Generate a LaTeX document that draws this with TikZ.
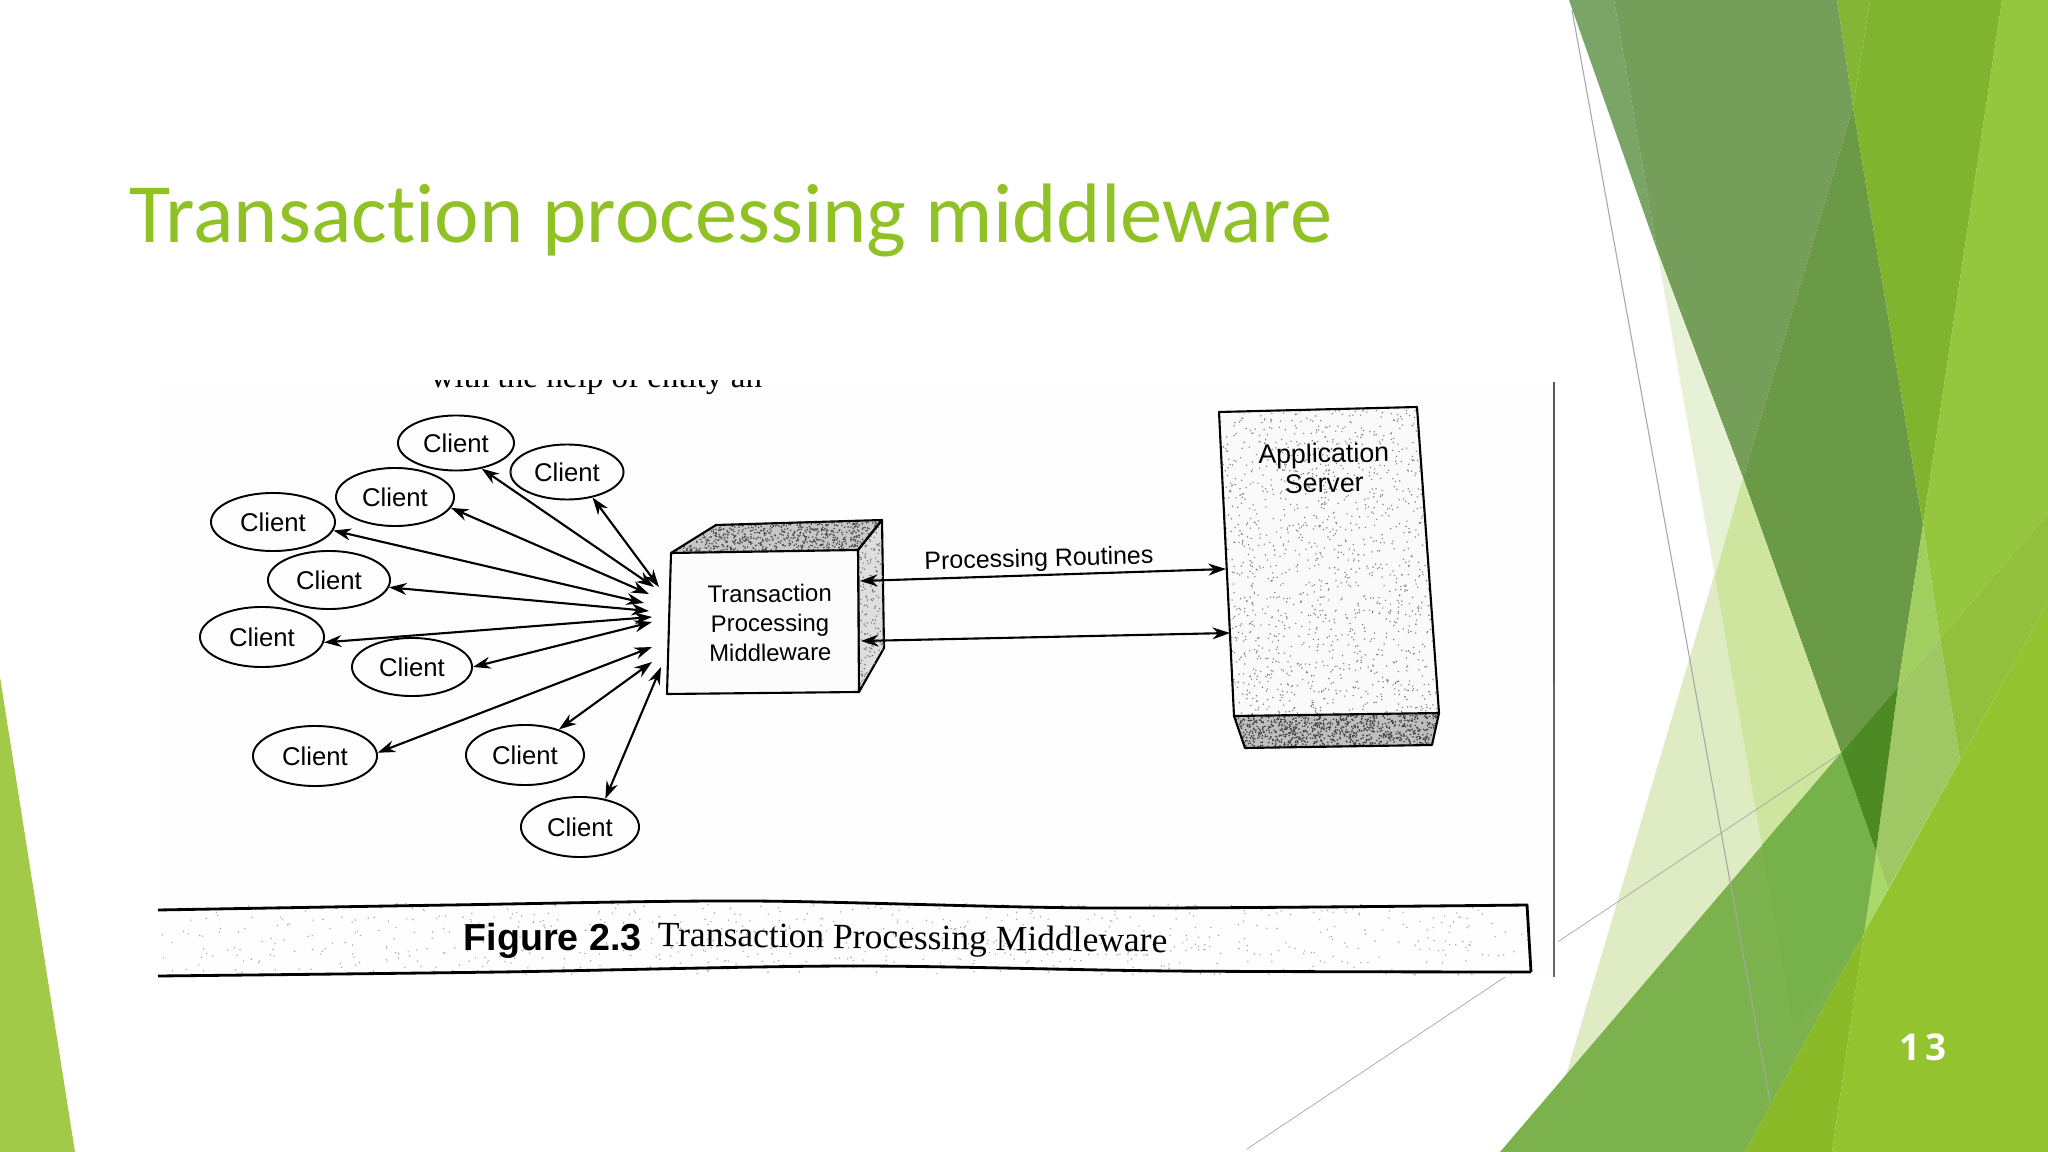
\documentclass[tikz,border=0pt]{standalone}
\usepackage{fontspec}
\setmainfont{Liberation Sans}
\newfontfamily\titlefont[Ligatures=NoCommon]{Carlito}
\newfontfamily\bookfont{Liberation Serif}
\newfontfamily\numfont[LetterSpace=14]{Open Sans}
\usepackage{tikz}
\usetikzlibrary{arrows.meta,shapes,positioning}
\definecolor{titleGreen}{HTML}{90C226}
\definecolor{sideGreen}{HTML}{A2C948}
\definecolor{facetA}{HTML}{7AA566}
\definecolor{facetB}{HTML}{749E59}
\definecolor{facetC}{HTML}{6A9A45}
\definecolor{facetD}{HTML}{80B42F}
\definecolor{facetE}{HTML}{84B535}
\definecolor{facetF}{HTML}{96C53E}
\definecolor{facetG}{HTML}{92C03C}
\definecolor{facetH}{HTML}{A0CF60}
\definecolor{facetI}{HTML}{9FC864}
\definecolor{facetJ}{HTML}{A8D86A}
\definecolor{facetK}{HTML}{4E8A24}
\definecolor{facetL}{HTML}{7BB24E}
\definecolor{facetM}{HTML}{76B14A}
\definecolor{facetN}{HTML}{DFEBC2}
\definecolor{facetO}{HTML}{E7F1D6}
\definecolor{facetP}{HTML}{CEE59F}
\definecolor{facetQ}{HTML}{8ABA28}
\definecolor{facetR}{HTML}{93C42F}

\begin{document}
\begin{tikzpicture}[
    x=0.01cm,
    y=-0.01cm,
    client/.style 2 args={
        ellipse,
        draw,
        line width=0.55pt,
        inner sep=0pt,
        minimum width=#1,
        minimum height=#2,
        font=\fontsize{7.3}{8.5}\selectfont
        },
    boxtext/.style={
        inner sep=0pt,
        align=center,
        font=\fontsize{#1}{8.4}\selectfont
        },
    face/.style={
        draw,
        line width=0.6pt,
        line join=round,
        fill=#1
        },
    link/.style={
        {Stealth[length=5pt,width=3.4pt]}-{Stealth[length=5pt,width=3.4pt]},
        line width=0.6pt
        },
    hairline/.style={
        line width=0.3pt,
        draw=gray!70
        }
  ]
  \useasboundingbox (0,0) rectangle (2048,1152);
  \pgfmathsetseed{23}
  % Slide background
  \fill[white] (0,0) rectangle (2048,1152);
  \fill[sideGreen] (0,677) -- (75,1152) -- (0,1152) -- cycle;
  \fill[facetA] (1569,0) -- (1614,0) -- (1657,250) -- cycle;
  \fill[facetB] (1614,0) -- (1837,0) -- (1853,107) -- (1743,478) -- (1657,250) -- cycle;
  \fill[facetC] (1853,107) -- (1923,525) -- (1898,687) -- (1841,753) -- (1743,478) -- cycle;
  \fill[facetE] (1837,0) -- (1870,0) -- (1853,107) -- cycle;
  \fill[facetD] (1870,0) -- (2002,0) -- (1923,525) -- (1853,107) -- cycle;
  \fill[facetF] (2002,0) -- (2048,0) -- (2048,514) -- (1940,639) -- (1923,525) -- cycle;
  \fill[facetG] (2048,514) -- (2048,602) -- (1960,760) -- (1940,639) -- cycle;
  \fill[facetH] (1923,525) -- (1940,639) -- (1898,687) -- cycle;
  \fill[facetI] (1898,687) -- (1940,639) -- (1960,760) -- (1888,889) -- (1876,852) -- cycle;
  \fill[facetJ] (1876,852) -- (1888,889) -- (1864,933) -- cycle;
  \fill[facetK] (1841,753) -- (1898,687) -- (1876,852) -- cycle;
  \fill[facetN] (1743,478) -- (1841,753) -- (1566,1075) -- cycle;
  \fill[facetO] (1657,250) -- (1743,478) -- (1715,577) -- cycle;
  \fill[facetP] (1715,577) -- (1743,478) -- (1841,753) -- (1762,845) -- cycle;
  \fill[facetL] (1841,753) -- (1876,852) -- (1864,933) -- (1745,1152) -- (1500,1152) -- cycle;
  \fill[facetM] (1762,845) -- (1841,753) -- (1876,852) -- (1864,933) -- (1794,1029) -- cycle;
  \fill[facetQ] (1864,933) -- (1832,1152) -- (1745,1152) -- cycle;
  \fill[facetR] (1864,933) -- (2048,602) -- (2048,1152) -- (1832,1152) -- cycle;
  % Thin lines
  \coordinate (lineA) at (1572,10);
  \coordinate (lineB) at (1770,1102);
  \coordinate (lineC) at (1247,1149);
  \coordinate (lineD) at (1841,753);
  \draw[hairline] (lineA) -- (lineB);
  \draw[hairline,line width=0.2pt] (lineC) -- (lineD);
  % Title and page number
  \node[anchor=base west,inner sep=0pt,text=titleGreen,font=\titlefont\fontsize{24}{30}\selectfont]
    (title) at (129,243) {Transaction processing middleware};
  \node[text=white,inner sep=0pt,font=\numfont\bfseries\fontsize{10.5}{12}\selectfont]
    (page) at (1923,1047) {13};
  % Scanned page
  \fill[white!99.5!black] (158,381) rectangle (1558,977);
  \begin{scope}
    \clip (158,381) rectangle (1558,400);
    \node[anchor=base west,inner sep=0pt,font=\bookfont\fontsize{9.4}{10}\selectfont]
      (scrap) at (430,388) {with the help of entity an};
  \end{scope}
  \draw[line width=0.8pt,draw=black!65] (1554,382) -- (1554,683);
  \draw[line width=0.5pt,draw=black!60] (1554,683) -- (1554,977);
  % Clients
  \node[client={1.16cm}{.55cm}] (client1) at (456,443) {Client};
  \node[client={1.13cm}{.55cm}] (client2) at (567,472) {Client};
  \node[client={1.18cm}{.58cm}] (client3) at (395,497) {Client};
  \node[client={1.24cm}{.58cm}] (client4) at (273,522) {Client};
  \node[client={1.22cm}{.58cm}] (client5) at (329,580) {Client};
  \node[client={1.24cm}{.60cm}] (client6) at (262,637) {Client};
  \node[client={1.20cm}{.58cm}] (client7) at (412,667) {Client};
  \node[client={1.24cm}{.60cm}] (client8) at (315,756) {Client};
  \node[client={1.18cm}{.60cm}] (client9) at (525,755) {Client};
  \node[client={1.18cm}{.60cm}] (client10) at (580,827) {Client};
  % Middleware box
  \coordinate (mwTL) at (671,553);
  \coordinate (mwTR) at (858,550);
  \coordinate (mwBR) at (859,692);
  \coordinate (mwBL) at (667,694);
  \coordinate (mwBack) at (716,525);
  \coordinate (mwSide) at (882,520);
  \coordinate (mwLow) at (884,648);
  \fill[black!22] (mwTL) -- (mwBack) -- (mwSide) -- (mwTR) -- cycle;
  \begin{scope}
    \clip (mwTL) -- (mwBack) -- (mwSide) -- (mwTR) -- cycle;
    \foreach \n in {1,...,900}
      \fill[black!70] ({671+rnd*211},{520+rnd*34}) circle (0.9);
  \end{scope}
  \draw[face=black!13] (mwTR) -- (mwSide) -- (mwLow) -- (mwBR) -- cycle;
  \begin{scope}
    \clip (mwTR) -- (mwSide) -- (mwLow) -- (mwBR) -- cycle;
    \foreach \n in {1,...,250}
      \fill[black!55] ({858+rnd*26},{520+rnd*172}) circle (0.8);
  \end{scope}
  \draw[face=black!1] (mwTL) -- (mwTR) -- (mwBR) -- (mwBL) -- cycle;
  \draw[line width=0.6pt,line join=round] (mwTL) -- (mwBack) -- (mwSide) -- (mwTR);
  \node[boxtext=6.8,rotate=0.6] (middleware) at (770,623) {Transaction\\Processing\\Middleware};
  % Application server
  \coordinate (srvTL) at (1219,412);
  \coordinate (srvTR) at (1417,407);
  \coordinate (srvBR) at (1439,713);
  \coordinate (srvBL) at (1234,716);
  \coordinate (srvLowR) at (1432,745);
  \coordinate (srvLowL) at (1245,748);
  \fill[black!2] (srvTL) -- (srvTR) -- (srvBR) -- (srvBL) -- cycle;
  \begin{scope}
    \clip (srvTL) -- (srvTR) -- (srvBR) -- (srvBL) -- cycle;
    \foreach \n in {1,...,1500}
      \fill[black!50] ({1219+rnd*220},{407+rnd*309}) circle (0.8);
  \end{scope}
  \fill[black!25] (srvBL) -- (srvBR) -- (srvLowR) -- (srvLowL) -- cycle;
  \begin{scope}
    \clip (srvBL) -- (srvBR) -- (srvLowR) -- (srvLowL) -- cycle;
    \foreach \n in {1,...,1000}
      \fill[black!75] ({1234+rnd*205},{713+rnd*35}) circle (0.9);
  \end{scope}
  \draw[line width=0.6pt,line join=round] (srvTL) -- (srvTR) -- (srvBR) -- (srvBL) -- cycle;
  \draw[line width=0.6pt,line join=round] (srvBL) -- (srvLowL) -- (srvLowR) -- (srvBR);
  \node[boxtext=7.6,rotate=1] (server) at (1324,468) {Application\\Server};
  % Client arrows
  \coordinate (hub1) at (654,587);
  \coordinate (hub2) at (659,587);
  \coordinate (hub3) at (649,594);
  \coordinate (hub4) at (644,603);
  \coordinate (hub5) at (649,611);
  \coordinate (hub6) at (652,617);
  \coordinate (hub7) at (652,622);
  \coordinate (hub8) at (652,647);
  \coordinate (hub9) at (652,662);
  \coordinate (hub10) at (661,667);
  \draw[link] (client1.-45) -- (hub1);
  \draw[link] (client2.-45) -- (hub2);
  \draw[link] (client3.-11) -- (hub3);
  \draw[link] (client4.-8) -- (hub4);
  \draw[link] (client5.-7) -- (hub5);
  \draw[link] (client6.-5) -- (hub6);
  \draw[link] (client7.east) -- (hub7);
  \draw[link] (client8.3) -- (hub8);
  \draw[link] (client9.37) -- (hub9);
  \draw[link] (client10.48) -- (hub10);
  % Routines arrows
  \coordinate (mwUp) at (860,581);
  \coordinate (mwDown) at (861,641);
  \coordinate (srvUp) at (1226,569);
  \coordinate (srvDown) at (1230,633);
  \draw[link] (mwUp) -- (srvUp);
  \draw[link] (mwDown) -- (srvDown);
  \node[boxtext=7.1,rotate=1.5] (routines) at (1039,560) {Processing Routines};
  % Caption band
  \begin{scope}
    \clip (158,900) rectangle (1531,978);
    \foreach \n in {1,...,700}
      \fill[black!35] ({158+rnd*1373},{903+rnd*72}) circle (0.8);
  \end{scope}
  \draw[line width=0.8pt] plot[smooth,tension=.5] coordinates {(158,910) (450,905) (750,901) (1100,908) (1527,905)}
    -- (1531,972);
  \draw[line width=0.8pt] plot[smooth,tension=.5] coordinates {(1531,972) (1171,971) (850,966) (500,972) (158,976)};
  \node[anchor=base west,inner sep=0pt,font=\bfseries\fontsize{10.7}{12}\selectfont]
    (figlabel) at (463,950) {Figure 2.3};
  \node[anchor=base west,inner sep=0pt,rotate=-0.7,font=\bookfont\fontsize{10.1}{12}\selectfont]
    (figtitle) at (657,946) {Transaction Processing Middleware};
\end{tikzpicture}
\end{document}
